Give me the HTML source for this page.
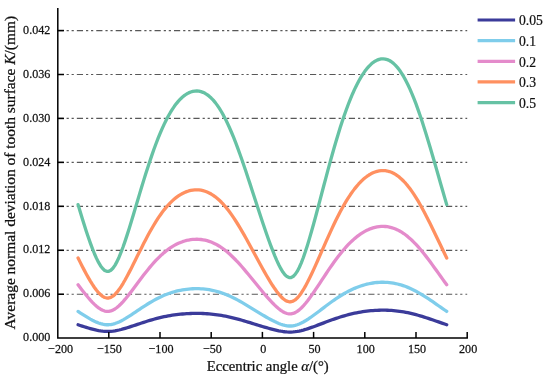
<!DOCTYPE html>
<html lang="en"><head><meta charset="utf-8"><title>Average normal deviation of tooth surface</title>
<style>html,body{margin:0;padding:0;background:#fff}svg{display:block}text{font-family:"Liberation Serif","DejaVu Serif",serif;fill:#111;stroke:#111;stroke-width:0.25px}</style></head><body>
<svg width="550" height="379" viewBox="0 0 550 379">
<rect width="550" height="379" fill="#fff"/>
<g stroke="#585858" stroke-width="1.2" fill="none" stroke-dasharray="6.2 3.0 2.2 2.8 2.2 3.03">
<path d="M57.4,294.25 H467.2"/>
<path d="M57.4,250.30 H467.2"/>
<path d="M57.4,206.35 H467.2"/>
<path d="M57.4,162.40 H467.2"/>
<path d="M57.4,118.45 H467.2"/>
<path d="M57.4,74.50 H467.2"/>
<path d="M57.4,30.55 H467.2"/>
</g>
<g fill="none" stroke-width="3.3" stroke-linecap="round" stroke-linejoin="round">
<path stroke="#3b3b9a" d="M78.08,324.75 L80.13,325.44 L82.18,326.11 L84.22,326.77 L86.27,327.41 L88.32,328.02 L90.37,328.60 L92.42,329.15 L94.46,329.66 L96.51,330.13 L98.56,330.54 L100.61,330.88 L102.66,331.15 L104.70,331.33 L106.75,331.42 L108.80,331.42 L110.85,331.31 L112.90,331.11 L114.94,330.82 L116.99,330.45 L119.04,330.01 L121.09,329.51 L123.14,328.96 L125.18,328.37 L127.23,327.75 L129.28,327.11 L131.33,326.44 L133.38,325.76 L135.42,325.08 L137.47,324.39 L139.52,323.70 L141.57,323.02 L143.62,322.35 L145.66,321.70 L147.71,321.05 L149.76,320.43 L151.81,319.83 L153.86,319.24 L155.90,318.69 L157.95,318.16 L160.00,317.65 L162.05,317.18 L164.10,316.73 L166.14,316.31 L168.19,315.92 L170.24,315.56 L172.29,315.23 L174.34,314.92 L176.38,314.65 L178.43,314.40 L180.48,314.18 L182.53,313.99 L184.58,313.83 L186.62,313.69 L188.67,313.58 L190.72,313.49 L192.77,313.43 L194.82,313.40 L196.86,313.39 L198.91,313.41 L200.96,313.45 L203.01,313.52 L205.06,313.62 L207.10,313.75 L209.15,313.91 L211.20,314.09 L213.25,314.31 L215.30,314.55 L217.34,314.83 L219.39,315.13 L221.44,315.47 L223.49,315.83 L225.54,316.22 L227.58,316.64 L229.63,317.09 L231.68,317.56 L233.73,318.06 L235.78,318.58 L237.82,319.13 L239.87,319.69 L241.92,320.27 L243.97,320.86 L246.02,321.46 L248.06,322.08 L250.11,322.70 L252.16,323.33 L254.21,323.96 L256.26,324.59 L258.30,325.22 L260.35,325.84 L262.40,326.46 L264.45,327.06 L266.50,327.66 L268.54,328.24 L270.59,328.80 L272.64,329.33 L274.69,329.85 L276.74,330.33 L278.78,330.77 L280.83,331.16 L282.88,331.49 L284.93,331.76 L286.98,331.95 L289.02,332.05 L291.07,332.05 L293.12,331.94 L295.17,331.73 L297.22,331.43 L299.26,331.04 L301.31,330.57 L303.36,330.04 L305.41,329.45 L307.46,328.81 L309.50,328.13 L311.55,327.42 L313.60,326.69 L315.65,325.93 L317.70,325.17 L319.74,324.40 L321.79,323.62 L323.84,322.84 L325.89,322.07 L327.94,321.31 L329.98,320.55 L332.03,319.81 L334.08,319.09 L336.13,318.39 L338.18,317.71 L340.22,317.05 L342.27,316.42 L344.32,315.81 L346.37,315.24 L348.42,314.69 L350.46,314.17 L352.51,313.69 L354.56,313.23 L356.61,312.81 L358.66,312.41 L360.70,312.05 L362.75,311.72 L364.80,311.42 L366.85,311.16 L368.90,310.92 L370.94,310.72 L372.99,310.55 L375.04,310.41 L377.09,310.30 L379.14,310.23 L381.18,310.18 L383.23,310.17 L385.28,310.20 L387.33,310.25 L389.38,310.34 L391.42,310.47 L393.47,310.63 L395.52,310.82 L397.57,311.05 L399.62,311.32 L401.66,311.62 L403.71,311.96 L405.76,312.33 L407.81,312.74 L409.86,313.18 L411.90,313.65 L413.95,314.15 L416.00,314.68 L418.05,315.25 L420.10,315.83 L422.14,316.45 L424.19,317.08 L426.24,317.73 L428.29,318.41 L430.34,319.09 L432.38,319.79 L434.43,320.49 L436.48,321.20 L438.53,321.92 L440.58,322.63 L442.62,323.35 L444.67,324.05 L446.72,324.75"/>
<path stroke="#7fcdeb" d="M78.08,311.40 L80.13,312.78 L82.18,314.13 L84.22,315.44 L86.27,316.72 L88.32,317.94 L90.37,319.11 L92.42,320.21 L94.46,321.23 L96.51,322.15 L98.56,322.97 L100.61,323.66 L102.66,324.19 L104.70,324.56 L106.75,324.74 L108.80,324.73 L110.85,324.52 L112.90,324.12 L114.94,323.55 L116.99,322.81 L119.04,321.93 L121.09,320.93 L123.14,319.83 L125.18,318.65 L127.23,317.40 L129.28,316.11 L131.33,314.78 L133.38,313.42 L135.42,312.05 L137.47,310.68 L139.52,309.31 L141.57,307.95 L143.62,306.61 L145.66,305.29 L147.71,304.01 L149.76,302.76 L151.81,301.55 L153.86,300.39 L155.90,299.28 L157.95,298.21 L160.00,297.21 L162.05,296.25 L164.10,295.36 L166.14,294.52 L168.19,293.74 L170.24,293.02 L172.29,292.35 L174.34,291.75 L176.38,291.20 L178.43,290.71 L180.48,290.27 L182.53,289.88 L184.58,289.56 L186.62,289.28 L188.67,289.05 L190.72,288.88 L192.77,288.76 L194.82,288.69 L196.86,288.68 L198.91,288.71 L200.96,288.80 L203.01,288.95 L205.06,289.15 L207.10,289.40 L209.15,289.71 L211.20,290.09 L213.25,290.51 L215.30,291.00 L217.34,291.55 L219.39,292.16 L221.44,292.83 L223.49,293.56 L225.54,294.34 L227.58,295.18 L229.63,296.08 L231.68,297.03 L233.73,298.02 L235.78,299.07 L237.82,300.15 L239.87,301.27 L241.92,302.43 L243.97,303.62 L246.02,304.83 L248.06,306.06 L250.11,307.31 L252.16,308.56 L254.21,309.82 L256.26,311.08 L258.30,312.34 L260.35,313.58 L262.40,314.82 L264.45,316.03 L266.50,317.22 L268.54,318.37 L270.59,319.49 L272.64,320.57 L274.69,321.59 L276.74,322.55 L278.78,323.43 L280.83,324.22 L282.88,324.89 L284.93,325.42 L286.98,325.80 L289.02,325.99 L291.07,325.99 L293.12,325.78 L295.17,325.37 L297.22,324.76 L299.26,323.98 L301.31,323.05 L303.36,321.98 L305.41,320.79 L307.46,319.51 L309.50,318.16 L311.55,316.74 L313.60,315.27 L315.65,313.77 L317.70,312.24 L319.74,310.69 L321.79,309.14 L323.84,307.58 L325.89,306.04 L327.94,304.51 L329.98,303.00 L332.03,301.53 L334.08,300.08 L336.13,298.68 L338.18,297.31 L340.22,296.00 L342.27,294.74 L344.32,293.53 L346.37,292.37 L348.42,291.28 L350.46,290.25 L352.51,289.27 L354.56,288.36 L356.61,287.51 L358.66,286.73 L360.70,286.00 L362.75,285.35 L364.80,284.75 L366.85,284.22 L368.90,283.75 L370.94,283.34 L372.99,283.00 L375.04,282.72 L377.09,282.50 L379.14,282.35 L381.18,282.27 L383.23,282.25 L385.28,282.29 L387.33,282.40 L389.38,282.59 L391.42,282.84 L393.47,283.16 L395.52,283.55 L397.57,284.01 L399.62,284.54 L401.66,285.14 L403.71,285.82 L405.76,286.56 L407.81,287.37 L409.86,288.25 L411.90,289.20 L413.95,290.20 L416.00,291.27 L418.05,292.39 L420.10,293.57 L422.14,294.79 L424.19,296.06 L426.24,297.37 L428.29,298.71 L430.34,300.08 L432.38,301.47 L434.43,302.89 L436.48,304.31 L438.53,305.74 L440.58,307.17 L442.62,308.59 L444.67,310.01 L446.72,311.40"/>
<path stroke="#e48bcb" d="M78.08,284.71 L80.13,287.46 L82.18,290.16 L84.22,292.79 L86.27,295.33 L88.32,297.78 L90.37,300.12 L92.42,302.32 L94.46,304.36 L96.51,306.21 L98.56,307.84 L100.61,309.21 L102.66,310.29 L104.70,311.02 L106.75,311.39 L108.80,311.37 L110.85,310.95 L112.90,310.15 L114.94,308.99 L116.99,307.51 L119.04,305.75 L121.09,303.75 L123.14,301.56 L125.18,299.20 L127.23,296.71 L129.28,294.12 L131.33,291.46 L133.38,288.75 L135.42,286.01 L137.47,283.26 L139.52,280.52 L141.57,277.80 L143.62,275.11 L145.66,272.48 L147.71,269.91 L149.76,267.42 L151.81,265.00 L153.86,262.68 L155.90,260.45 L157.95,258.33 L160.00,256.31 L162.05,254.41 L164.10,252.61 L166.14,250.94 L168.19,249.38 L170.24,247.94 L172.29,246.61 L174.34,245.40 L176.38,244.30 L178.43,243.31 L180.48,242.44 L182.53,241.67 L184.58,241.01 L186.62,240.46 L188.67,240.01 L190.72,239.66 L192.77,239.42 L194.82,239.28 L196.86,239.25 L198.91,239.32 L200.96,239.50 L203.01,239.79 L205.06,240.19 L207.10,240.70 L209.15,241.33 L211.20,242.07 L213.25,242.93 L215.30,243.91 L217.34,245.01 L219.39,246.22 L221.44,247.56 L223.49,249.01 L225.54,250.58 L227.58,252.27 L229.63,254.06 L231.68,255.95 L233.73,257.95 L235.78,260.03 L237.82,262.20 L239.87,264.45 L241.92,266.76 L243.97,269.14 L246.02,271.56 L248.06,274.02 L250.11,276.51 L252.16,279.02 L254.21,281.54 L256.26,284.07 L258.30,286.58 L260.35,289.07 L262.40,291.53 L264.45,293.96 L266.50,296.33 L268.54,298.65 L270.59,300.89 L272.64,303.04 L274.69,305.08 L276.74,307.00 L278.78,308.76 L280.83,310.34 L282.88,311.68 L284.93,312.75 L286.98,313.50 L289.02,313.89 L291.07,313.88 L293.12,313.46 L295.17,312.64 L297.22,311.43 L299.26,309.86 L301.31,307.99 L303.36,305.85 L305.41,303.48 L307.46,300.93 L309.50,298.22 L311.55,295.38 L313.60,292.45 L315.65,289.44 L317.70,286.38 L319.74,283.29 L321.79,280.18 L323.84,277.07 L325.89,273.98 L327.94,270.92 L329.98,267.91 L332.03,264.95 L334.08,262.06 L336.13,259.25 L338.18,256.53 L340.22,253.90 L342.27,251.37 L344.32,248.96 L346.37,246.65 L348.42,244.46 L350.46,242.39 L352.51,240.44 L354.56,238.62 L356.61,236.92 L358.66,235.35 L360.70,233.91 L362.75,232.59 L364.80,231.40 L366.85,230.33 L368.90,229.40 L370.94,228.58 L372.99,227.90 L375.04,227.34 L377.09,226.91 L379.14,226.60 L381.18,226.43 L383.23,226.39 L385.28,226.48 L387.33,226.71 L389.38,227.07 L391.42,227.57 L393.47,228.21 L395.52,228.99 L397.57,229.91 L399.62,230.98 L401.66,232.18 L403.71,233.53 L405.76,235.02 L407.81,236.64 L409.86,238.40 L411.90,240.29 L413.95,242.31 L416.00,244.44 L418.05,246.69 L420.10,249.04 L422.14,251.49 L424.19,254.02 L426.24,256.64 L428.29,259.32 L430.34,262.06 L432.38,264.85 L434.43,267.67 L436.48,270.52 L438.53,273.38 L440.58,276.24 L442.62,279.09 L444.67,281.91 L446.72,284.71"/>
<path stroke="#ff9060" d="M78.08,258.01 L80.13,262.14 L82.18,266.19 L84.22,270.13 L86.27,273.95 L88.32,277.62 L90.37,281.12 L92.42,284.42 L94.46,287.48 L96.51,290.26 L98.56,292.71 L100.61,294.77 L102.66,296.38 L104.70,297.48 L106.75,298.03 L108.80,298.00 L110.85,297.37 L112.90,296.17 L114.94,294.44 L116.99,292.22 L119.04,289.58 L121.09,286.58 L123.14,283.28 L125.18,279.75 L127.23,276.01 L129.28,272.13 L131.33,268.14 L133.38,264.07 L135.42,259.96 L137.47,255.84 L139.52,251.72 L141.57,247.64 L143.62,243.62 L145.66,239.67 L147.71,235.82 L149.76,232.08 L151.81,228.45 L153.86,224.97 L155.90,221.63 L157.95,218.44 L160.00,215.42 L162.05,212.56 L164.10,209.87 L166.14,207.36 L168.19,205.02 L170.24,202.85 L172.29,200.86 L174.34,199.04 L176.38,197.40 L178.43,195.92 L180.48,194.61 L182.53,193.45 L184.58,192.47 L186.62,191.63 L188.67,190.96 L190.72,190.44 L192.77,190.08 L194.82,189.88 L196.86,189.83 L198.91,189.94 L200.96,190.21 L203.01,190.64 L205.06,191.24 L207.10,192.00 L209.15,192.94 L211.20,194.06 L213.25,195.34 L215.30,196.81 L217.34,198.46 L219.39,200.29 L221.44,202.29 L223.49,204.47 L225.54,206.83 L227.58,209.35 L229.63,212.04 L231.68,214.88 L233.73,217.87 L235.78,221.00 L237.82,224.25 L239.87,227.62 L241.92,231.09 L243.97,234.65 L246.02,238.29 L248.06,241.98 L250.11,245.72 L252.16,249.48 L254.21,253.27 L256.26,257.05 L258.30,260.82 L260.35,264.55 L262.40,268.25 L264.45,271.88 L266.50,275.45 L268.54,278.92 L270.59,282.28 L272.64,285.51 L274.69,288.58 L276.74,291.45 L278.78,294.10 L280.83,296.45 L282.88,298.47 L284.93,300.07 L286.98,301.20 L289.02,301.78 L291.07,301.77 L293.12,301.14 L295.17,299.91 L297.22,298.09 L299.26,295.75 L301.31,292.94 L303.36,289.73 L305.41,286.17 L307.46,282.34 L309.50,278.28 L311.55,274.02 L313.60,269.62 L315.65,265.11 L317.70,260.52 L319.74,255.88 L321.79,251.21 L323.84,246.55 L325.89,241.92 L327.94,237.33 L329.98,232.81 L332.03,228.38 L334.08,224.04 L336.13,219.83 L338.18,215.74 L340.22,211.80 L342.27,208.01 L344.32,204.38 L346.37,200.92 L348.42,197.64 L350.46,194.54 L352.51,191.62 L354.56,188.88 L356.61,186.34 L358.66,183.98 L360.70,181.81 L362.75,179.84 L364.80,178.05 L366.85,176.45 L368.90,175.04 L370.94,173.82 L372.99,172.80 L375.04,171.96 L377.09,171.31 L379.14,170.86 L381.18,170.60 L383.23,170.54 L385.28,170.67 L387.33,171.01 L389.38,171.56 L391.42,172.31 L393.47,173.27 L395.52,174.44 L397.57,175.82 L399.62,177.42 L401.66,179.23 L403.71,181.25 L405.76,183.48 L407.81,185.91 L409.86,188.55 L411.90,191.39 L413.95,194.41 L416.00,197.61 L418.05,200.98 L420.10,204.51 L422.14,208.18 L424.19,211.99 L426.24,215.91 L428.29,219.93 L430.34,224.04 L432.38,228.22 L434.43,232.46 L436.48,236.73 L438.53,241.01 L440.58,245.30 L442.62,249.58 L444.67,253.82 L446.72,258.01"/>
<path stroke="#66c2a4" d="M78.08,204.62 L80.13,211.50 L82.18,218.24 L84.22,224.81 L86.27,231.18 L88.32,237.30 L90.37,243.14 L92.42,248.64 L94.46,253.74 L96.51,258.37 L98.56,262.45 L100.61,265.88 L102.66,268.57 L104.70,270.41 L106.75,271.32 L108.80,271.27 L110.85,270.22 L112.90,268.22 L114.94,265.33 L116.99,261.63 L119.04,257.23 L121.09,252.23 L123.14,246.74 L125.18,240.84 L127.23,234.62 L129.28,228.15 L131.33,221.50 L133.38,214.72 L135.42,207.87 L137.47,201.00 L139.52,194.14 L141.57,187.34 L143.62,180.64 L145.66,174.06 L147.71,167.63 L149.76,161.39 L151.81,155.36 L153.86,149.55 L155.90,143.98 L157.95,138.67 L160.00,133.63 L162.05,128.86 L164.10,124.39 L166.14,120.20 L168.19,116.30 L170.24,112.69 L172.29,109.37 L174.34,106.34 L176.38,103.60 L178.43,101.13 L180.48,98.94 L182.53,97.02 L184.58,95.38 L186.62,93.99 L188.67,92.87 L190.72,92.01 L192.77,91.40 L194.82,91.06 L196.86,90.98 L198.91,91.16 L200.96,91.61 L203.01,92.33 L205.06,93.33 L207.10,94.61 L209.15,96.17 L211.20,98.03 L213.25,100.17 L215.30,102.62 L217.34,105.37 L219.39,108.41 L221.44,111.75 L223.49,115.39 L225.54,119.31 L227.58,123.52 L229.63,128.00 L231.68,132.73 L233.73,137.72 L235.78,142.93 L237.82,148.35 L239.87,153.97 L241.92,159.76 L243.97,165.69 L246.02,171.74 L248.06,177.90 L250.11,184.13 L252.16,190.41 L254.21,196.71 L256.26,203.01 L258.30,209.29 L260.35,215.52 L262.40,221.68 L264.45,227.74 L266.50,233.68 L268.54,239.46 L270.59,245.07 L272.64,250.45 L274.69,255.56 L276.74,260.36 L278.78,264.76 L280.83,268.69 L282.88,272.05 L284.93,274.72 L286.98,276.60 L289.02,277.57 L291.07,277.55 L293.12,276.51 L295.17,274.45 L297.22,271.42 L299.26,267.51 L301.31,262.83 L303.36,257.48 L305.41,251.56 L307.46,245.17 L309.50,238.39 L311.55,231.30 L313.60,223.97 L315.65,216.45 L317.70,208.80 L319.74,201.06 L321.79,193.29 L323.84,185.52 L325.89,177.80 L327.94,170.15 L329.98,162.62 L332.03,155.23 L334.08,148.01 L336.13,140.98 L338.18,134.17 L340.22,127.60 L342.27,121.29 L344.32,115.24 L346.37,109.47 L348.42,104.00 L350.46,98.83 L352.51,93.96 L354.56,89.40 L356.61,85.16 L358.66,81.23 L360.70,77.62 L362.75,74.33 L364.80,71.35 L366.85,68.68 L368.90,66.34 L370.94,64.31 L372.99,62.59 L375.04,61.20 L377.09,60.12 L379.14,59.36 L381.18,58.93 L383.23,58.83 L385.28,59.06 L387.33,59.62 L389.38,60.53 L391.42,61.78 L393.47,63.38 L395.52,65.33 L397.57,67.63 L399.62,70.29 L401.66,73.31 L403.71,76.68 L405.76,80.40 L407.81,84.46 L409.86,88.85 L411.90,93.58 L413.95,98.61 L416.00,103.95 L418.05,109.56 L420.10,115.44 L422.14,121.57 L424.19,127.91 L426.24,134.45 L428.29,141.15 L430.34,148.01 L432.38,154.97 L434.43,162.03 L436.48,169.14 L438.53,176.29 L440.58,183.44 L442.62,190.56 L444.67,197.63 L446.72,204.62"/>
</g>
<g stroke="#000" stroke-width="1.5" fill="none">
<path d="M57.8,8 V338.85 M57.05,338.1 H467.95"/>
<path d="M57.8,294.25 H64"/>
<path d="M57.8,250.30 H64"/>
<path d="M57.8,206.35 H64"/>
<path d="M57.8,162.40 H64"/>
<path d="M57.8,118.45 H64"/>
<path d="M57.8,74.50 H64"/>
<path d="M57.8,30.55 H64"/>
<path d="M108.80,338.1 v-6.2"/>
<path d="M160.00,338.1 v-6.2"/>
<path d="M211.20,338.1 v-6.2"/>
<path d="M262.40,338.1 v-6.2"/>
<path d="M313.60,338.1 v-6.2"/>
<path d="M364.80,338.1 v-6.2"/>
<path d="M416.00,338.1 v-6.2"/>
<path d="M467.20,338.1 v-6.2"/>
</g>
<g font-size="13.3px" text-anchor="end">
<text transform="translate(50.4,341.3) scale(0.912,1)">0.000</text>
<text transform="translate(50.4,297.4) scale(0.912,1)">0.006</text>
<text transform="translate(50.4,253.4) scale(0.912,1)">0.012</text>
<text transform="translate(50.4,209.5) scale(0.912,1)">0.018</text>
<text transform="translate(50.4,165.5) scale(0.912,1)">0.024</text>
<text transform="translate(50.4,121.6) scale(0.912,1)">0.030</text>
<text transform="translate(50.4,77.6) scale(0.912,1)">0.036</text>
<text transform="translate(50.4,33.7) scale(0.912,1)">0.042</text>
</g>
<g font-size="13.3px" text-anchor="middle">
<text transform="translate(60.6,353.3) scale(0.912,1)">−200</text>
<text transform="translate(109.4,353.3) scale(0.912,1)">−150</text>
<text transform="translate(161,353.3) scale(0.912,1)">−100</text>
<text transform="translate(212.4,353.3) scale(0.912,1)">−50</text>
<text transform="translate(263.3,353.3) scale(0.912,1)">0</text>
<text transform="translate(314.6,353.3) scale(0.912,1)">50</text>
<text transform="translate(365.7,353.3) scale(0.912,1)">100</text>
<text transform="translate(417,353.3) scale(0.912,1)">150</text>
<text transform="translate(468.1,353.3) scale(0.912,1)">200</text>
</g>
<text id="xl" font-size="14.5px" transform="translate(206.8,371.4) scale(1.0135,1)">Eccentric angle <tspan font-style="italic">α</tspan>/(°)</text>
<text id="yl" font-size="14.5px" transform="translate(15,329.4) rotate(-90) scale(1.066,1)">Average normal deviation of tooth surface <tspan font-style="italic">K</tspan>/(mm)</text>
<g stroke-width="3.2" fill="none">
<path stroke="#3b3b9a" d="M477.6,20.00 H515.1"/>
<path stroke="#7fcdeb" d="M477.6,40.65 H515.1"/>
<path stroke="#e48bcb" d="M477.6,61.30 H515.1"/>
<path stroke="#ff9060" d="M477.6,81.95 H515.1"/>
<path stroke="#66c2a4" d="M477.6,102.60 H515.1"/>
</g>
<g font-size="15.1px">
<text transform="translate(519,25.20) scale(0.904,1)">0.05</text>
<text transform="translate(519,45.85) scale(0.904,1)">0.1</text>
<text transform="translate(519,66.50) scale(0.904,1)">0.2</text>
<text transform="translate(519,87.15) scale(0.904,1)">0.3</text>
<text transform="translate(519,107.80) scale(0.904,1)">0.5</text>
</g>
</svg></body></html>
